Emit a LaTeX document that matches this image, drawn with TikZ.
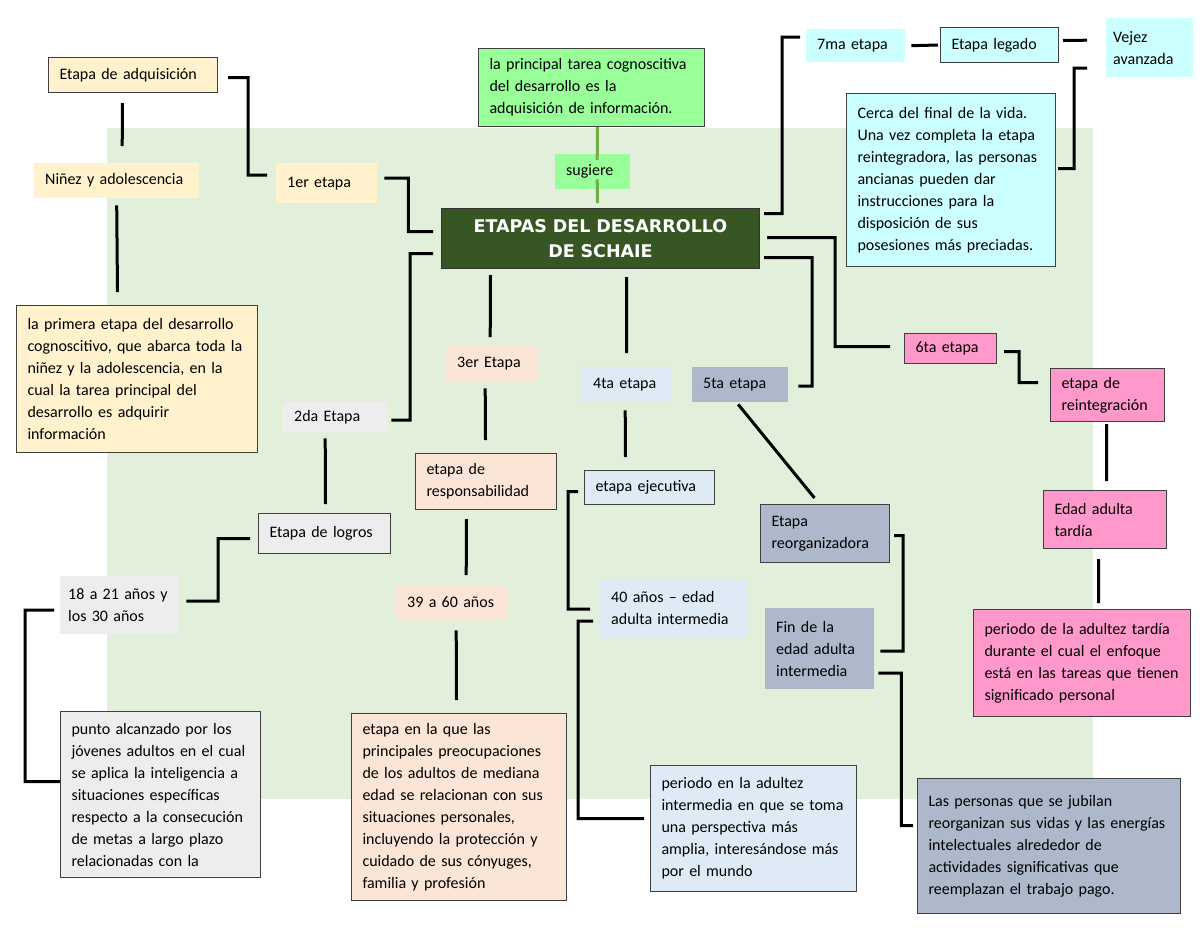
\documentclass[tikz,border=0pt]{standalone}
\usepackage{fontspec}
\setmainfont{Carlito}
\newfontfamily\titlefont{DejaVu Sans}
\definecolor{backgr}{HTML}{E2EFDA}
\definecolor{cream}{HTML}{FFF2CC}
\definecolor{mint}{HTML}{99FF99}
\definecolor{darkgreen}{HTML}{375623}
\definecolor{greenline}{HTML}{70AD47}
\definecolor{lgray}{HTML}{EDEDED}
\definecolor{peach}{HTML}{FBE5D6}
\definecolor{lblue}{HTML}{DEEBF7}
\definecolor{slate}{HTML}{ADB9CA}
\definecolor{lcyan}{HTML}{CCFFFF}
\definecolor{pink}{HTML}{FF99CC}
\definecolor{frame}{HTML}{404040}

\begin{document}
\begin{tikzpicture}[x=1pt, y=-1pt,
    every node/.style={anchor=north west, align=left, inner xsep=11pt,
        inner ysep=0pt, font=\fontsize{16}{22}\selectfont},
    framed/.style={draw=frame, line width=1pt},
    link/.style={line width=3pt},
]
\fill[white] (0,0) rectangle (1200,927);
\useasboundingbox (0,0) rectangle (1200,927);
\fill[backgr] (107,128) rectangle (1093,799);

% stage 1
\node[framed, fill=cream, text width=147pt, minimum height=35pt] (adq) at (48,57) {Etapa de adquisición};
\node[fill=cream, text width=143pt, minimum height=35pt] (nin) at (34,163) {Niñez y adolescencia};
\node[framed, fill=cream, text width=219pt, minimum height=147pt] (prim) at (16,305)
    {la primera etapa del desarrollo\\ cognoscitivo, que abarca toda la\\ niñez y la adolescencia, en la\\
     cual la tarea principal del\\ desarrollo es adquirir\\ información};
\node[fill=cream, text width=79pt, minimum height=40pt] (uno) at (276,163) {1er etapa};

% centre
\node[framed, fill=mint, text width=204pt, minimum height=78pt] (tarea) at (478,48)
    {la principal tarea cognoscitiva\\ del desarrollo es la\\ adquisición de información.};
\node[fill=mint, text width=53pt, minimum height=35pt] (sug) at (555,154) {sugiere};
\node[framed, draw=black!80, fill=darkgreen, text=white, align=center, text width=296pt,
    minimum height=60pt, font=\titlefont\bfseries\fontsize{17.5}{25}\selectfont] (eds) at (441,208)
    {ETAPAS DEL DESARROLLO\\ DE SCHAIE};

% stage 2
\node[fill=lgray, text width=83pt, minimum height=30pt] (dos) at (283,402) {2da Etapa};
\node[framed, fill=lgray, text width=110pt, minimum height=40pt] (log) at (258,513) {Etapa de logros};
\node[fill=lgray, inner xsep=8pt, text width=103pt, minimum height=58pt] (edad) at (60,576)
    {\mbox{18 a 21 años y}\\ los 30 años};
\node[framed, fill=lgray, text width=178pt, minimum height=166pt] (punt) at (60,711)
    {punto alcanzado por los\\ jóvenes adultos en el cual\\ se aplica la inteligencia a\\
     situaciones específicas\\ respecto a la consecución\\ de metas a largo plazo\\ relacionadas con la};

% stage 3
\node[fill=peach, text width=70pt, minimum height=36pt] (tres) at (446,345) {3er Etapa};
\node[framed, fill=peach, text width=119pt, minimum height=56pt] (resp) at (415,453) {etapa de\\ responsabilidad};
\node[fill=peach, text width=90pt, minimum height=34pt] (trein) at (396,585) {39 a 60 años};
\node[framed, fill=peach, text width=193pt, minimum height=187pt] (enque) at (351,713)
    {etapa en la que las\\ principales preocupaciones\\ de los adultos de mediana\\ edad se relacionan con sus\\
     situaciones personales,\\ incluyendo la protección y\\ cuidado de sus cónyuges,\\ familia y profesión};

% stage 4
\node[fill=lblue, text width=67pt, minimum height=35pt] (cua) at (582,367) {4ta etapa};
\node[framed, fill=lblue, text width=108pt, minimum height=34pt] (ejec) at (584,470) {etapa ejecutiva};
\node[fill=lblue, text width=126pt, minimum height=58pt] (cuar) at (600,579) {40 años – edad\\ adulta intermedia};
\node[framed, fill=lblue, text width=184pt, minimum height=126pt] (pint) at (650,765)
    {periodo en la adultez\\ intermedia en que se toma\\ una perspectiva más\\ amplia, interesándose más\\ por el mundo};

% stage 5
\node[fill=slate, text width=74pt, minimum height=35pt] (cin) at (692,367) {5ta etapa};
\node[framed, fill=slate, text width=107pt, minimum height=58pt] (reor) at (760,504) {Etapa\\ reorganizadora};
\node[fill=slate, text width=87pt, minimum height=81pt] (fin) at (765,608) {Fin de la\\ edad adulta\\ intermedia};
\node[framed, fill=slate, text width=241pt, minimum height=135pt] (jub) at (917,778)
    {Las personas que se jubilan\\ reorganizan sus vidas y las energías\\ intelectuales alrededor de\\
     actividades significativas que\\ reemplazan el trabajo pago.};

% stage 6
\node[framed, fill=pink, text width=70pt, minimum height=30pt] (sei) at (904,333) {6ta etapa};
\node[framed, fill=pink, text width=92pt, minimum height=53pt] (rein) at (1050,368) {etapa de\\ reintegración};
\node[framed, fill=pink, text width=101pt, minimum height=58pt] (tard) at (1043,490) {Edad adulta\\ tardía};
\node[framed, fill=pink, text width=195pt, minimum height=107pt] (ptar) at (973,609)
    {periodo de la adultez tardía\\ durante el cual el enfoque\\ está en las tareas que tienen\\ significado personal};

% stage 7
\node[fill=lcyan, text width=77pt, minimum height=33pt] (sie) at (806,29) {7ma etapa};
\node[framed, fill=lcyan, text width=96pt, minimum height=35pt] (leg) at (940,27) {Etapa legado};
\node[fill=lcyan, inner xsep=7pt, text width=73pt, minimum height=59pt] (vej) at (1106,18) {Vejez\\ avanzada};
\node[framed, fill=lcyan, text width=187pt, minimum height=173pt] (cer) at (846,93)
    {Cerca del final de la vida.\\ Una vez completa la etapa\\ reintegradora, las personas\\ ancianas pueden dar\\
     instrucciones para la\\ disposición de sus\\ posesiones más preciadas.};

% connectors
\draw[link, greenline]
    ([xshift=6pt]tarea.south) -- ([xshift=4.5pt,yshift=-6pt]sug.north)
    ([xshift=4.5pt,yshift=10pt]sug.south) -- ([xshift=-3pt,yshift=5pt]eds.north);
\draw[link]
    ([xshift=10pt,yshift=-2.5pt]adq.east) -- ++(20,0) |- ([xshift=-9pt,yshift=8pt]uno.west)
    ([xshift=-10.5pt,yshift=-10pt]adq.south) -- ([xshift=5.5pt,yshift=17pt]nin.north)
    ([yshift=-7pt]nin.south) -- ([xshift=-19.5pt,yshift=13pt]prim.north)
    ([xshift=7pt,yshift=5pt]uno.east) -- ++(24,0) |- ([xshift=-8pt,yshift=7pt]eds.west)
    ([xshift=-8pt,yshift=-15pt]eds.west) -- ++(-23,0) |- ([xshift=3pt,yshift=-3pt]dos.east)
    ([xshift=-110pt,yshift=-6pt]eds.south) -- ([xshift=-2pt,yshift=8pt]tres.north)
    ([xshift=26pt,yshift=-8pt]eds.south) -- ([yshift=14pt]cua.north)
    ([xshift=4pt,yshift=25pt]eds.east) -- ++(18,0) |- ([xshift=-6pt,yshift=8.5pt]sie.west)
    ([xshift=7pt,yshift=1pt]eds.east) -- ++(68,0) |- ([xshift=-14pt,yshift=2pt]sei.west)
    ([xshift=4pt,yshift=-19pt]eds.east) -- ++(48,0) |- ([xshift=10pt,yshift=-1.5pt]cin.east)
    ([xshift=6pt]sie.east) -- ([xshift=-2pt]leg.west)
    ([xshift=4pt,yshift=4.5pt]leg.east) -- ([xshift=-19pt,yshift=7.5pt]vej.west)
    ([xshift=2pt,yshift=11.5pt]cer.east) -- ++(16,0) |- ([xshift=-19pt,yshift=-20.5pt]vej.west)
    ([xshift=7pt,yshift=-3pt]sei.east) -- ++(15,0) |- ([xshift=-12pt,yshift=12.5pt]rein.west)
    ([xshift=-1pt,yshift=-2pt]rein.south) -- ([xshift=1.5pt,yshift=9pt]tard.north)
    ([xshift=-6.5pt,yshift=-10pt]tard.south) -- ([xshift=16.5pt,yshift=6pt]ptar.north)
    ([xshift=-10.5pt,yshift=-6pt]dos.south) -- ([xshift=1pt,yshift=9pt]log.north)
    ([xshift=-8pt,yshift=-5pt]log.west) -- ++(-32,0) |- ([xshift=7pt,yshift=4pt]edad.east)
    ([xshift=-6pt,yshift=-5pt]edad.west) -- ++(-29,0) |- ([yshift=13pt]punt.west)
    ([xshift=-7pt,yshift=-7pt]tres.south) -- ([xshift=-0.5pt,yshift=13pt]resp.north)
    ([xshift=-19.5pt,yshift=-9pt]resp.south) -- ([xshift=14pt,yshift=10pt]trein.north)
    ([xshift=4pt,yshift=-11pt]trein.south) -- ([xshift=-2.5pt,yshift=13pt]enque.north)
    ([xshift=-1.5pt,yshift=-8pt]cua.south) -- ([xshift=-24pt,yshift=13pt]ejec.north)
    ([xshift=-6pt,yshift=-4pt]ejec.west) -- ++(-10,0) |- ([xshift=-10pt,yshift=-1pt]cuar.west)
    ([xshift=-7pt,yshift=-13pt]cuar.west) -- ++(-15,0) |- ([xshift=-6pt,yshift=10pt]pint.west)
    ([xshift=-2pt,yshift=-2pt]cin.south) -- ([xshift=-10.5pt,yshift=6pt]reor.north)
    ([xshift=4pt,yshift=-2pt]reor.east) -- ++(9,0) |- ([xshift=6pt,yshift=-2.5pt]fin.east)
    ([xshift=4pt,yshift=-24.5pt]fin.east) -- ++(23,0) |- ([xshift=-4pt,yshift=20.5pt]jub.west);
\end{tikzpicture}
\end{document}
